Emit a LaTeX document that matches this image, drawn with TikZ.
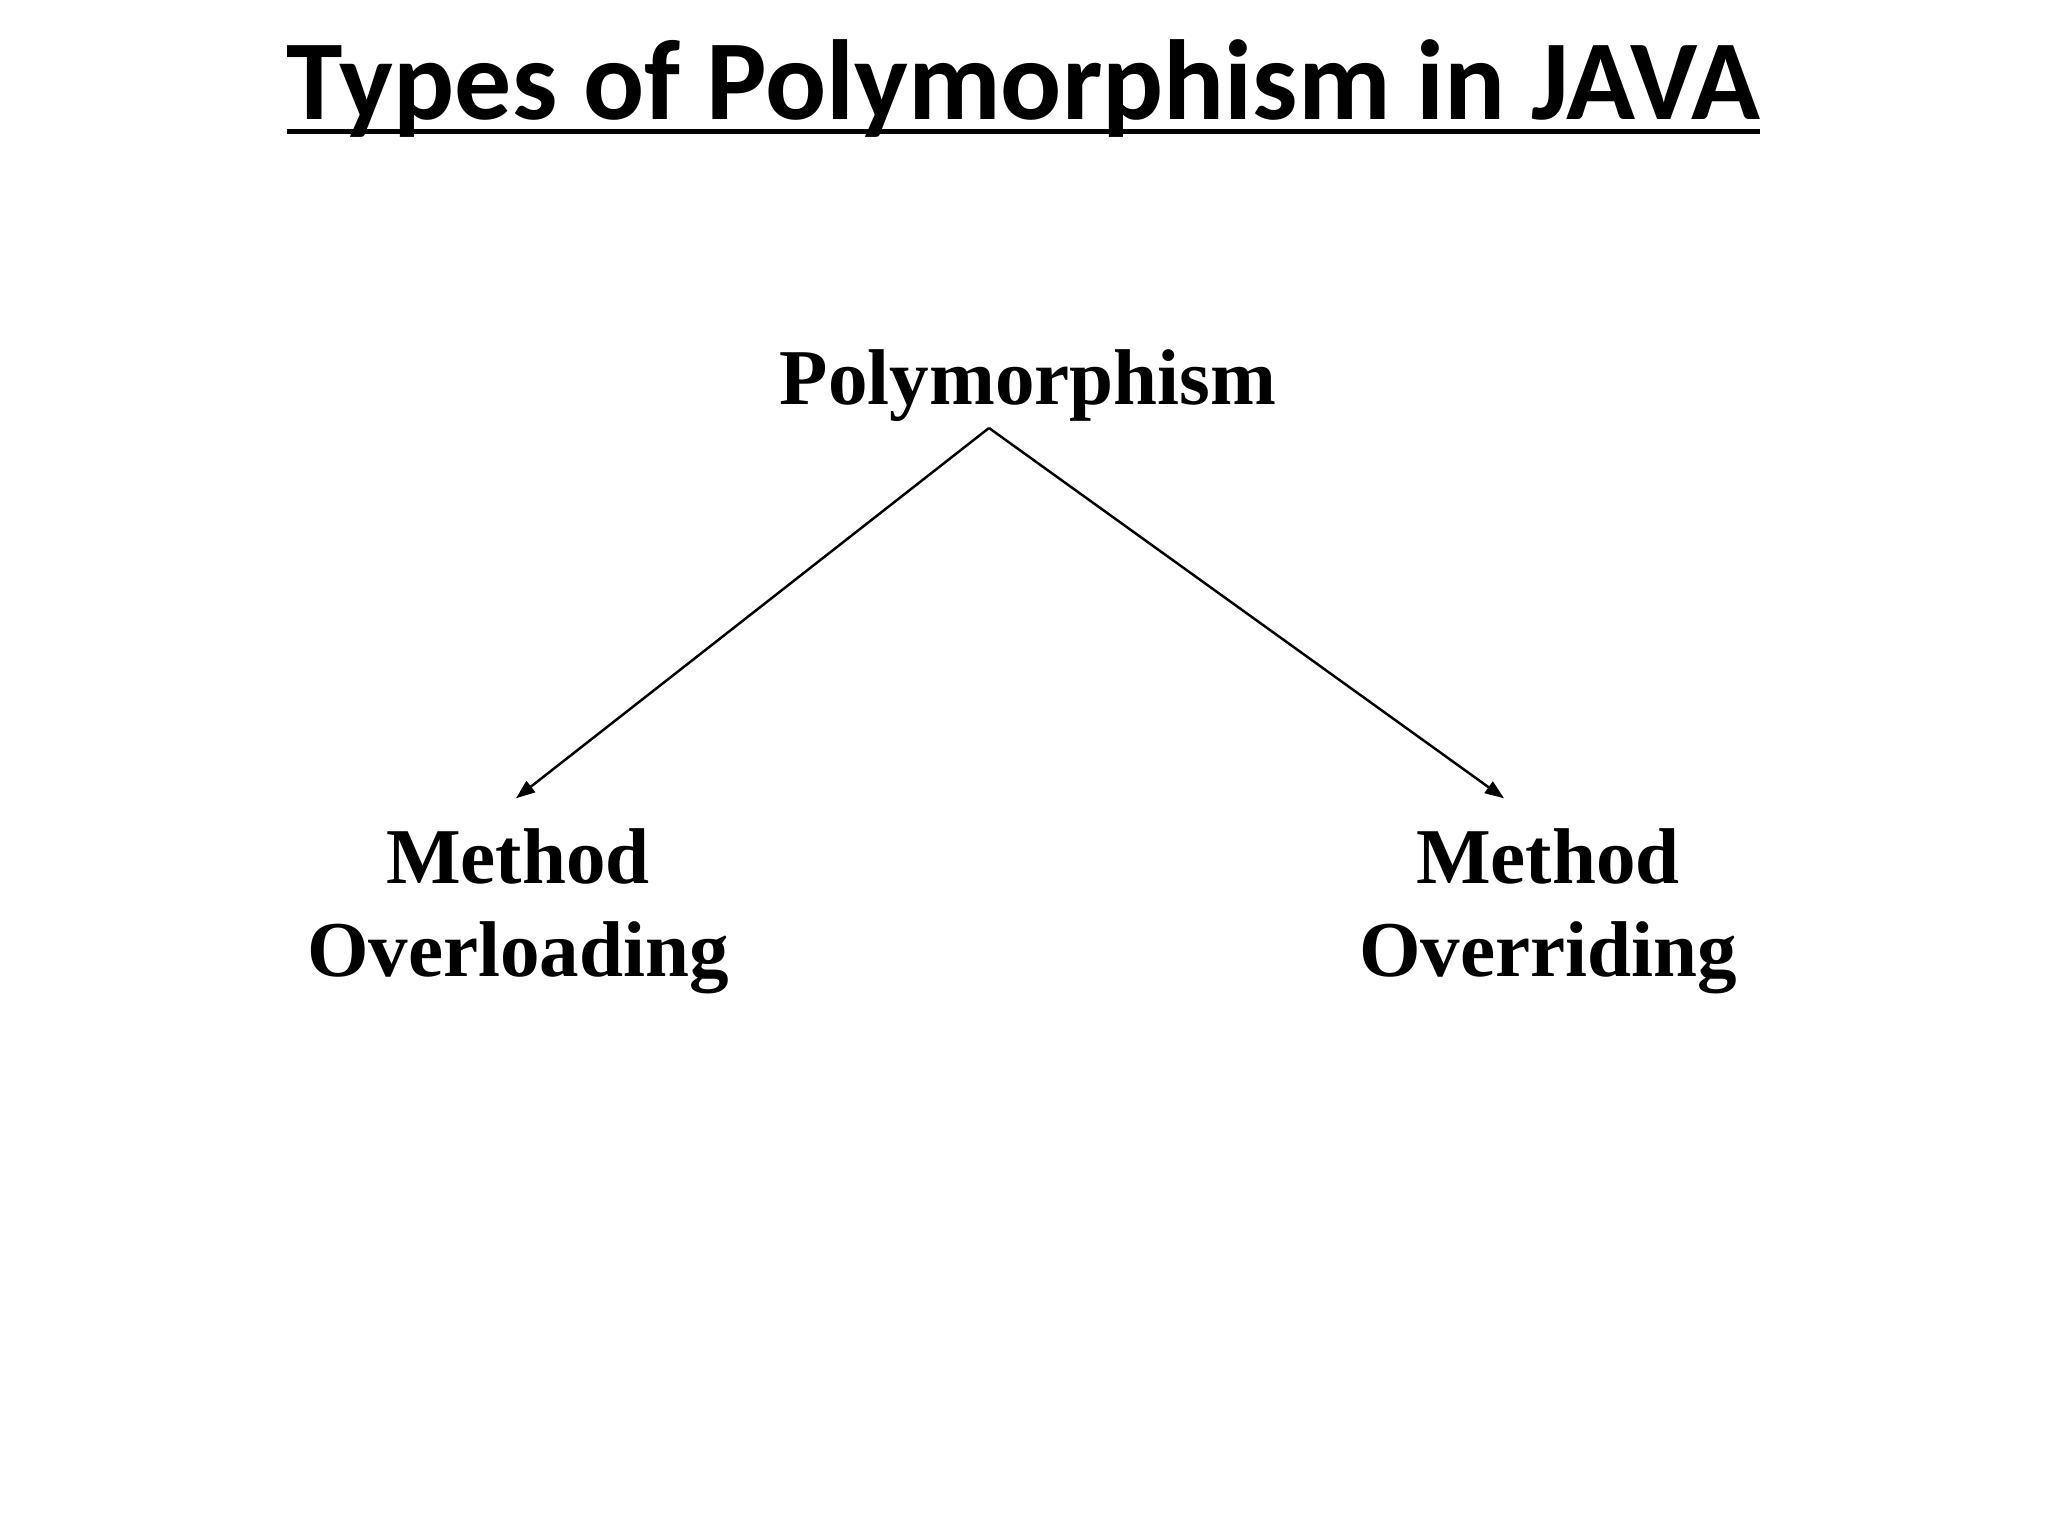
\documentclass[tikz,border=0pt]{standalone}
\usepackage{fontspec}
\setmainfont{Liberation Serif}
\newfontfamily\titlefont{Carlito}
\usetikzlibrary{arrows.meta,calc,positioning}

\begin{document}
\begin{tikzpicture}[
    every node/.style={inner sep=0pt,outer sep=0pt},
    titlenode/.style={font=\titlefont\bfseries\fontsize{32.4pt}{39pt}\selectfont},
    typenode/.style={align=center,font=\bfseries\fontsize{22.5pt}{26.7pt}\selectfont},
    -{Triangle[length=0.19cm,width=0.14cm]},line width=0.7pt
  ]
  \useasboundingbox (0,0) rectangle (20.48,-15.36);

  % the title
  \node[titlenode,anchor=base] (title) at (10.235,-1.20) {Types of Polymorphism in JAVA};
  \draw[-,line width=0.05cm] ([yshift=-0.12cm]title.base west) -- ([yshift=-0.12cm]title.base east);

  % the root
  \node[typenode,anchor=base] (poly) at (10.28,-4.05) {Polymorphism};
  \coordinate (fork) at (9.89,-4.28);

  % the two kinds
  \node[typenode,anchor=base] (over) at (5.18,-9.77) {Method\\Overloading};
  \node[typenode,anchor=base] (overr) at (15.48,-9.77) {Method\\Overriding};

  % the edges
  \draw (fork) -- ($(over.north)+(-0.02,0.30)$);
  \draw (fork) -- ($(overr.north)+(-0.44,0.30)$);
\end{tikzpicture}
\end{document}
